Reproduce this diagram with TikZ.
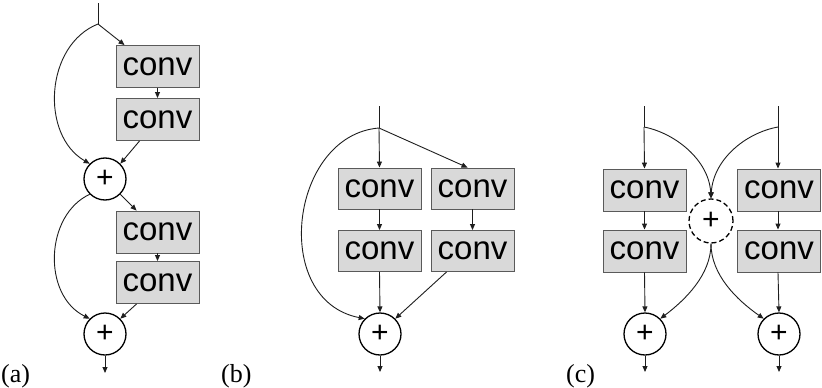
\documentclass[tikz,border=0pt]{standalone}
\usepackage{fontspec}
\setmainfont{Liberation Serif}
\newfontfamily\sansf{Liberation Sans}
\usetikzlibrary{arrows.meta,calc}
\definecolor{boxfill}{RGB}{217,217,217}
\definecolor{boxline}{RGB}{90,90,90}
\definecolor{wire}{RGB}{30,30,30}
\tikzset{
  convbox/.style={draw=boxline,fill=boxfill,line width=0.9pt,minimum width=83pt,minimum height=42pt,inner sep=0pt,font=\sansf\fontsize{33}{33}\selectfont},
  addnode/.style={draw=black,circle,line width=1.3pt,minimum size=42pt,inner sep=0pt,font=\sansf\fontsize{30}{30}\selectfont},
  dashadd/.style={addnode,dashed,dash pattern=on 5pt off 3pt,minimum size=44pt},
  wirearrow/.style={draw=wire,line width=0.9pt,-{Triangle[length=6pt,width=5pt]}},
  wireplain/.style={draw=wire,line width=0.9pt},
  lab/.style={anchor=base west,inner sep=0pt,font=\fontsize{26}{26}\selectfont}
}
\begin{document}
\begin{tikzpicture}[x=1pt,y=-1pt]
\useasboundingbox (0,0) rectangle (822,388);
% ---------- (a) ----------
\coordinate (atop) at (98,3);
\coordinate (abr) at (98,24);
\node[convbox] (a1) at (157.5,66.5) {conv};
\node[convbox] (a2) at (157.5,119.5) {conv};
\node[addnode] (ca1) at (105,179) {+};
\node[convbox] (a3) at (157.5,232) {conv};
\node[convbox] (a4) at (157.5,282.5) {conv};
\node[addnode] (ca2) at (105,334) {+};
\coordinate (aout) at (105,373);
\draw[wireplain] (atop) -- (abr);
\draw[wirearrow] (abr) -- ([xshift=9pt]a1.north west);
\draw[wirearrow] (a1.south) -- (a2.north);
\draw[wirearrow] ([xshift=24pt]a2.south west) -- (ca1.45);
\draw[wirearrow] (abr) .. controls (45,45) and (40,135) .. (ca1.135);
\draw[wirearrow] (ca1.-45) -- ([xshift=21pt]a3.north west);
\draw[wirearrow] (a3.south) -- (a4.north);
\draw[wirearrow] ([xshift=21pt]a4.south west) -- (ca2.45);
\draw[wirearrow] (ca1.225) .. controls (45,215) and (42,295) .. (ca2.135);
\draw[wirearrow] (ca2.south) -- (aout);
\node[lab] (la) at (1,382) {(a)};
% ---------- (b) ----------
\coordinate (btop) at (379,106);
\coordinate (bbr) at (379,128);
\node[convbox,minimum height=41pt] (b1) at (379.5,188.5) {conv};
\node[convbox,minimum height=41pt] (b2) at (472.5,188.5) {conv};
\node[convbox,minimum height=41pt] (b3) at (379.5,251) {conv};
\node[convbox,minimum height=41pt] (b4) at (472.5,251) {conv};
\node[addnode] (cb) at (380,334) {+};
\coordinate (bout) at (380,372);
\draw[wireplain] (btop) -- (bbr);
\draw[wirearrow] (bbr) -- (b1.north);
\draw[wirearrow] (bbr) -- ([xshift=37pt]b2.north west);
\draw[wirearrow] (b1.south) -- (b3.north);
\draw[wirearrow] (b2.south) -- (b4.north);
\draw[wirearrow] (b3.south) -- (cb.north);
\draw[wirearrow] ([xshift=16pt]b4.south west) -- (cb.45);
\draw[wirearrow] (bbr) .. controls (290,135) and (270,300) .. (cb.135);
\draw[wirearrow] (cb.south) -- (bout);
\node[lab] (lb) at (221,382) {(b)};
% ---------- (c) ----------
\coordinate (cltop) at (644,106);
\coordinate (clbr) at (644,127);
\coordinate (crtop) at (778,106);
\coordinate (crbr) at (778,127);
\node[convbox] (c1) at (644.5,190) {conv};
\node[convbox] (c3) at (644.5,251) {conv};
\node[convbox] (c2) at (779,190) {conv};
\node[convbox] (c4) at (779,251) {conv};
\node[dashadd] (cd) at (711,221) {+};
\node[addnode] (cl) at (645,334) {+};
\node[addnode] (cr) at (779,334) {+};
\coordinate (clout) at (645,372);
\coordinate (crout) at (779,372);
\draw[wireplain] (cltop) -- (clbr);
\draw[wireplain] (crtop) -- (crbr);
\draw[wirearrow] (clbr) -- (c1.north);
\draw[wirearrow] (crbr) -- (crbr |- c2.north);
\draw[wirearrow] (c1.south) -- (c3.north);
\draw[wirearrow] (crbr |- c2.south) -- (crbr |- c4.north);
\draw[wirearrow] (c3.south) -- (cl.north);
\draw[wirearrow] (crbr |- c4.south) -- (cr.north);
\draw[wirearrow] (clbr) .. controls (675,133) and (709,160) .. (cd.north);
\draw[wirearrow] (crbr) .. controls (745,133) and (713,160) .. (cd.north);
\draw[wirearrow] (cd.south) .. controls (711,275) and (685,300) .. (cl.45);
\draw[wirearrow] (cd.south) .. controls (711,275) and (737,300) .. (cr.135);
\draw[wirearrow] (cl.south) -- (clout);
\draw[wirearrow] (cr.south) -- (crout);
\node[lab] (lc) at (566,382) {(c)};
\end{tikzpicture}
\end{document}
